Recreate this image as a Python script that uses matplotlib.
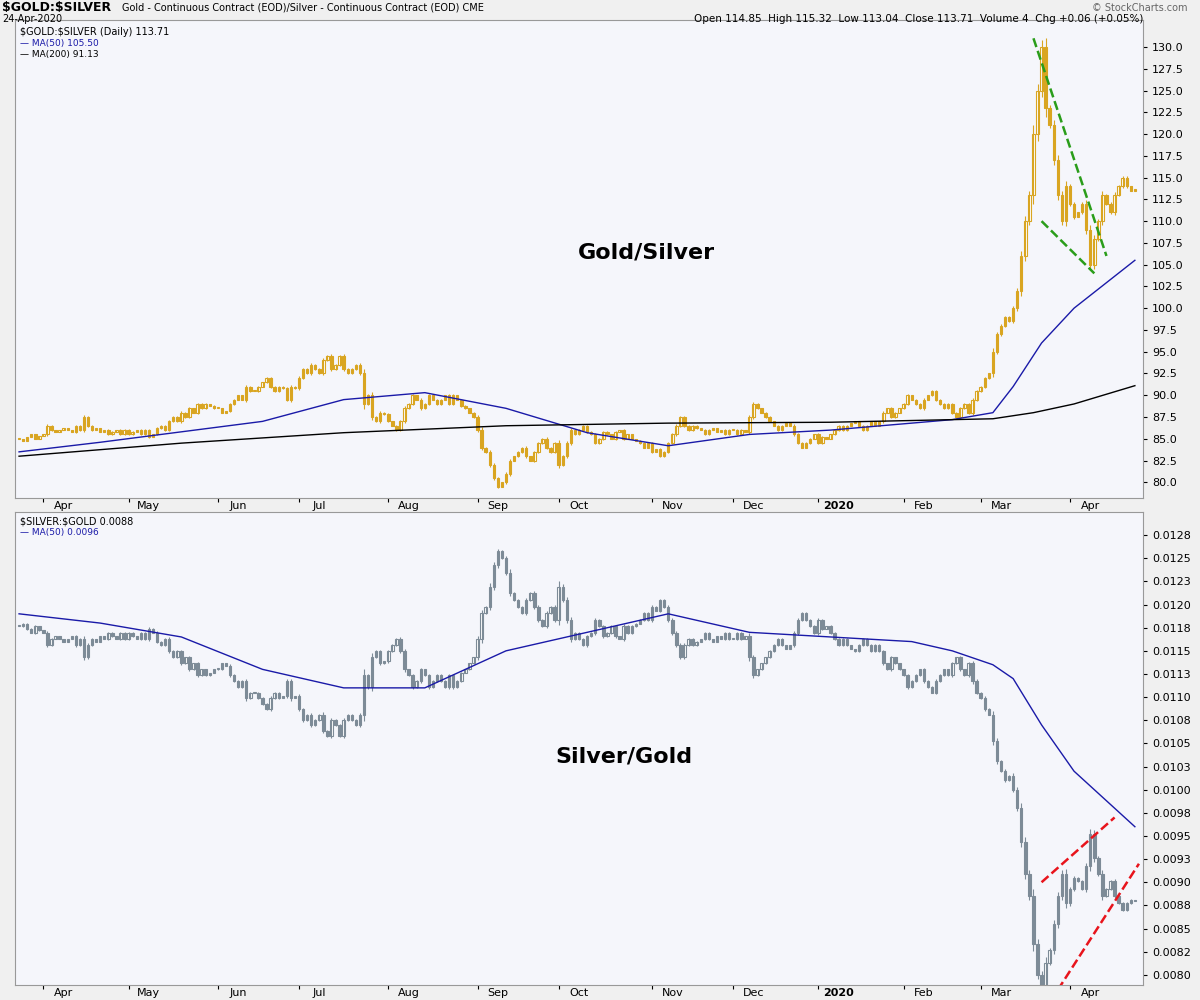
import numpy as np
import matplotlib
matplotlib.use("Agg")
import matplotlib.pyplot as plt
from matplotlib.patches import Rectangle

# daily closes of $GOLD:$SILVER, late Mar 2019 .. 24 Apr 2020
closes = [
    85, 84.8, 85.2, 85.5, 85.0, 85.3,
    85.5, 86.5, 86, 85.8, 86, 86.2, 86, 85.8, 86.5, 86, 87.5, 86.5, 86, 86.2, 85.8, 86, 85.5, 85.8, 86, 85.5, 86.0,
    85.5, 85.8, 86, 85.5, 86, 85.2, 85.5, 86.2, 86.5, 86, 87, 87.5, 87, 88, 87.5, 88.5, 88, 89, 88.5, 89, 88.8, 88.5,
    88.5, 88, 88.2, 89, 89.5, 90, 89.5, 91, 90.5, 90.5, 91, 91.5, 92, 91, 90.5, 91, 90.8, 89.5, 91, 90.8,
    92, 93, 92.5, 93.5, 93, 92.5, 94, 94.5, 93, 93.5, 94.5, 93, 92.5, 93, 93.5, 92.5, 89, 90, 87.5, 87, 88, 87.8,
    87, 86.5, 86, 87, 88.5, 89, 90, 89.5, 88.5, 89, 90, 89.5, 89, 89.5, 90, 89, 90, 89.5, 88.8, 88.5, 88, 87.5,
    86, 84, 83.5, 82, 80.5, 79.5, 80, 81, 82.5, 83, 83.5, 84, 83, 82.5, 83.5, 84.5, 85, 84, 83.5, 84.5,
    82, 83, 84.5, 86, 85.5, 86, 86.5, 85.8, 85.5, 84.5, 85, 85.8, 85.5, 85, 85.8, 86, 85, 85.5, 85, 84.8, 84.5, 84, 84.5,
    83.5, 83.8, 83, 83.5, 84.5, 85.5, 86.5, 87.5, 86.5, 86, 86.5, 86.2, 86, 85.5, 86, 86.2, 85.8, 86, 85.5, 86,
    86, 85.5, 86, 85.8, 87.5, 89, 88.5, 88, 87.5, 87, 86.5, 86, 86.5, 86.8, 86.5, 85.5, 84.5, 84, 84.5, 85, 85.5,
    84.5, 85.2, 85, 85.5, 86, 86.5, 86, 86.5, 86.8, 87, 86.5, 86, 86.5, 87, 86.5, 87, 88, 88.5, 87.5, 88, 88.5,
    89, 90, 89.5, 89, 88.5, 89.5, 90, 90.5, 89.5, 89, 88.5, 89, 88, 87.5, 88.5, 89, 88, 89.5, 90.5,
    91, 92, 92.5, 95, 97, 98, 99, 98.5, 100, 102, 106, 110, 113, 120, 125, 130, 123, 121, 117, 113, 110, 114,
    112, 110.5, 111, 112, 109, 105, 108, 110, 113, 112, 111, 113, 114, 115, 114, 113.5, 113.7,
]
month_names = ["Apr", "May", "Jun", "Jul", "Aug", "Sep", "Oct", "Nov", "Dec", "2020", "Feb", "Mar", "Apr"]
month_days = [21, 22, 20, 22, 22, 20, 23, 20, 21, 21, 19, 22, 17]
first_partial = 6

ma50_days = [0, 20, 40, 60, 80, 100, 120, 140, 160, 180, 200, 220, 230, 240, 245, 252, 260, 275]
ma50_top = [83.5, 84.6, 85.8, 87, 89.5, 90.3, 88.5, 85.7, 84.2, 85.5, 86, 86.8, 87.2, 88,
            91, 96, 100, 105.5]
ma50_bot = [0.0119, 0.0118, 0.01165, 0.0113, 0.0111, 0.0111, 0.0115, 0.0117, 0.0119,
            0.0117, 0.01165, 0.0116, 0.0115, 0.01135, 0.0112, 0.0107, 0.0102, 0.0096]
ma200_days = [0, 40, 80, 120, 160, 200, 240, 250, 260, 275]
ma200_top = [83, 84.5, 85.7, 86.5, 86.8, 86.9, 87.3, 88, 89, 91.1]

green_upper = [(250, 131), (268, 106)]
green_lower = [(252, 110), (265, 104)]
red_upper = [(252, 0.0090), (270, 0.0097)]
red_lower = [(254, 0.0077), (276, 0.0092)]

top_ticks = np.arange(80, 130.1, 2.5)
bot_ticks = [0.0080, 0.00825, 0.0085, 0.00875, 0.0090, 0.00925, 0.0095, 0.00975, 0.0100, 0.01025,
             0.0105, 0.01075, 0.0110, 0.01125, 0.0115, 0.01175, 0.0120, 0.01225, 0.0125, 0.01275]
bot_labels = ["0.0080", "0.0082", "0.0085", "0.0088", "0.0090", "0.0093", "0.0095", "0.0098", "0.0100", "0.0103",
              "0.0105", "0.0108", "0.0110", "0.0113", "0.0115", "0.0118", "0.0120", "0.0123", "0.0125", "0.0128"]

closes = np.array(closes, dtype=float)
n = len(closes)
opens = np.concatenate([[closes[0]], closes[:-1]])
bg = "#f5f6fb"

fig = plt.figure(figsize=(12, 10), dpi=100, facecolor="#f0f0f0")
ax1 = fig.add_axes([0.0125, 0.502, 0.94, 0.478], facecolor=bg)
ax2 = fig.add_axes([0.0125, 0.015, 0.94, 0.473], facecolor=bg)


def candles(ax, o, c, color, w=0.6):
    for i in range(len(c)):
        lo, hi = min(o[i], c[i]), max(o[i], c[i])
        h = max(hi - lo, (ax.get_ylim()[1] - ax.get_ylim()[0]) * 0.002)
        filled = c[i] < o[i]
        ax.add_patch(Rectangle((i - w / 2, lo), w, h, facecolor=color if filled else "white",
                               edgecolor=color, linewidth=0.8))
        ax.vlines(i, lo - h * 0.15, hi + h * 0.15, color=color, linewidth=0.8)


ax1.set_ylim(78.2, 133.1)
ax1.set_xlim(-1, n + 1)
candles(ax1, opens, closes, "#d9a521")
ax1.plot(ma50_days, ma50_top, color="#1a1aa8", lw=1)
ax1.plot(ma200_days, ma200_top, color="black", lw=1)
for seg in (green_upper, green_lower):
    ax1.plot([seg[0][0], seg[1][0]], [seg[0][1], seg[1][1]], color="#2a9d1a", ls="--", lw=1.8)
ax1.text(0.56, 0.5, "Gold/Silver", transform=ax1.transAxes, ha="center", fontsize=16, fontweight="bold")

ax2.set_ylim(0.00789, 0.0130)
ax2.set_xlim(-1, n + 1)
candles(ax2, 1 / opens, 1 / closes, "#7d8b97")
ax2.plot(ma50_days, ma50_bot, color="#1a1aa8", lw=1)
for seg in (red_upper, red_lower):
    ax2.plot([seg[0][0], seg[1][0]], [seg[0][1], seg[1][1]], color="#e8141c", ls="--", lw=1.8)
ax2.text(0.54, 0.47, "Silver/Gold", transform=ax2.transAxes, ha="center", fontsize=16, fontweight="bold")

# month ticks: tick at month start, label a little after it
starts = [first_partial]
for d in month_days[:-1]:
    starts.append(starts[-1] + d)
label_pos = [s + 5 for s in starts]
for ax in (ax1, ax2):
    ax.yaxis.tick_right()
    ax.tick_params(axis="y", labelsize=8, length=3, direction="out")
    ax.set_xticks(starts)
    ax.set_xticks(label_pos, minor=True)
    ax.set_xticklabels([])
    ax.set_xticklabels(month_names, minor=True, fontsize=8)
    ax.tick_params(axis="x", which="minor", length=0, pad=2)
    ax.tick_params(axis="x", which="major", length=3)
    for lab in ax.get_xticklabels(minor=True):
        if lab.get_text() == "2020":
            lab.set_fontweight("bold")
    for s in ax.spines.values():
        s.set_color("#999999")
ax1.set_yticks(top_ticks)
ax1.set_yticklabels([f"{t:.1f}" for t in top_ticks])
ax2.set_yticks(bot_ticks)
ax2.set_yticklabels(bot_labels)

fig.text(0.002, 0.992, r"\$GOLD:\$SILVER", fontsize=9, fontweight="bold", va="center")
fig.text(0.102, 0.992, "Gold - Continuous Contract (EOD)/Silver - Continuous Contract (EOD) CME", fontsize=7, va="center")
fig.text(0.002, 0.981, "24-Apr-2020", fontsize=7, va="center")
fig.text(0.99, 0.992, "© StockCharts.com", fontsize=7, va="center", ha="right", color="#666666")
fig.text(0.953, 0.981, "Open 114.85  High 115.32  Low 113.04  Close 113.71  Volume 4  Chg +0.06 (+0.05%)",
         fontsize=7.5, va="center", ha="right")

ax1.text(0.004, 0.985, r"\$GOLD:\$SILVER (Daily) 113.71", transform=ax1.transAxes, fontsize=7, va="top")
ax1.text(0.004, 0.96, "— MA(50) 105.50", transform=ax1.transAxes, fontsize=6.5, va="top", color="#1a1aa8")
ax1.text(0.004, 0.937, "— MA(200) 91.13", transform=ax1.transAxes, fontsize=6.5, va="top", color="black")
ax2.text(0.004, 0.99, r"\$SILVER:\$GOLD 0.0088", transform=ax2.transAxes, fontsize=7, va="top")
ax2.text(0.004, 0.966, "— MA(50) 0.0096", transform=ax2.transAxes, fontsize=6.5, va="top", color="#1a1aa8")

fig.savefig("out.png", dpi=100, facecolor=fig.get_facecolor())
